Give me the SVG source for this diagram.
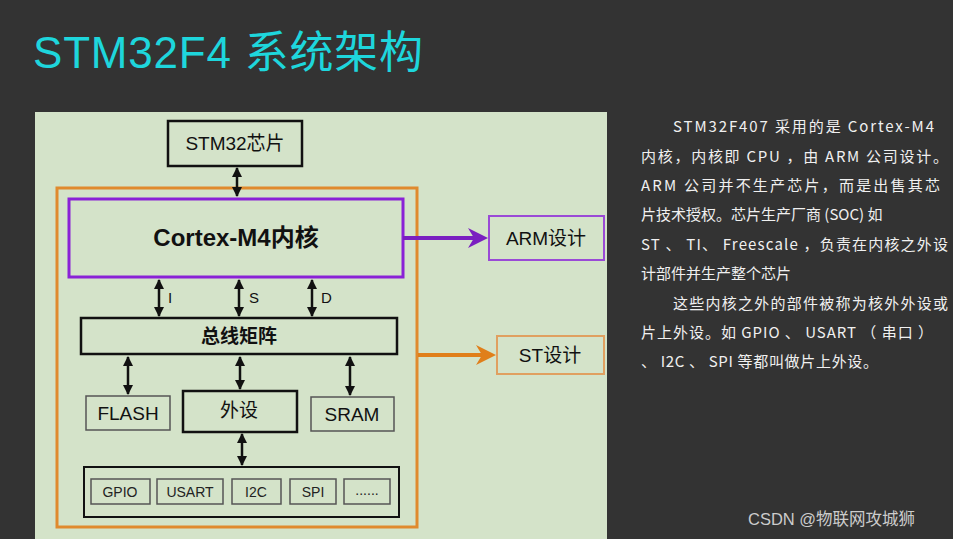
<svg xmlns="http://www.w3.org/2000/svg" width="953" height="539" viewBox="0 0 953 539">
<defs>
<marker id="ab" viewBox="0 0 10 10" refX="9" refY="5" markerWidth="4" markerHeight="4" orient="auto-start-reverse"><path d="M0,0L10,5L0,10z" fill="#111"/></marker>
<marker id="ap" viewBox="0 0 10 10" refX="8" refY="5" markerWidth="5" markerHeight="5" orient="auto"><path d="M0,0L10,5L0,10L3,5z" fill="#7a1fc0"/></marker>
<marker id="ao" viewBox="0 0 10 10" refX="8" refY="5" markerWidth="5" markerHeight="5" orient="auto"><path d="M0,0L10,5L0,10L3,5z" fill="#e07f1a"/></marker>
</defs>
<style>
text{font-family:"Liberation Sans","Noto Sans CJK SC",sans-serif}
.b{fill:#d4e3c9;stroke:#111;stroke-width:2.5}
.s{fill:#d4e3c9;stroke:#555;stroke-width:1.5}
.t{font-size:19px;fill:#111;text-anchor:middle}
.st{font-size:14px;fill:#222;text-anchor:middle}
.p{font-size:15px;fill:#f0f0f0;font-family:"Noto Sans CJK SC",sans-serif}
.c{stroke:#111;stroke-width:2.5;marker-start:url(#ab);marker-end:url(#ab)}
</style>
<rect width="953" height="539" fill="#333333"/>
<text x="33" y="68" font-size="44" fill="#1ed6dc" textLength="390" font-family="'Liberation Sans','Noto Sans CJK SC',sans-serif">STM32F4 系统架构</text>
<rect x="35" y="112" width="572" height="427" fill="#d4e3c9"/>
<g id="orange"><rect x="57" y="188" width="360" height="339" fill="none" stroke="#e08a2e" stroke-width="3"/></g>
<g id="stm32"><rect class="b" x="168" y="121" width="134" height="45" stroke-width="4"/><text class="t" x="235" y="150">STM32芯片</text></g>
<g id="core"><rect x="69" y="199" width="334" height="78" fill="#d4e3c9" stroke="#8a22d6" stroke-width="3"/><text x="236" y="246" font-size="24" font-weight="bold" text-anchor="middle" fill="#111">Cortex-M4内核</text></g>
<g id="arm"><rect x="489" y="216" width="115" height="44" fill="#d4e3c9" stroke="#9a4ad6" stroke-width="2"/><text class="t" x="546" y="245">ARM设计</text></g>
<g id="st"><rect x="497" y="336" width="107" height="38" fill="#d4e3c9" stroke="#e0a060" stroke-width="2"/><text class="t" x="550" y="362">ST设计</text></g>
<g id="bus"><rect class="b" x="81" y="318" width="316" height="36"/><text class="t" x="239" y="343" font-weight="bold" font-size="18">总线矩阵</text></g>
<g id="flash"><rect class="s" x="86" y="396" width="84" height="34"/><text class="t" x="128" y="420">FLASH</text></g>
<g id="periph"><rect class="b" x="183" y="391" width="114" height="41"/><text class="t" x="239" y="417">外设</text></g>
<g id="sram"><rect class="s" x="311" y="397" width="83" height="34"/><text class="t" x="352" y="421">SRAM</text></g>
<g id="plist"><rect x="84" y="467" width="315" height="50" fill="none" stroke="#111" stroke-width="2"/>
<rect class="s" x="91" y="479" width="59" height="25"/><text class="st" x="120" y="497">GPIO</text>
<rect class="s" x="157" y="479" width="66" height="25"/><text class="st" x="190" y="497">USART</text>
<rect class="s" x="232" y="479" width="49" height="25"/><text class="st" x="256" y="497">I2C</text>
<rect class="s" x="290" y="479" width="46" height="25"/><text class="st" x="313" y="497">SPI</text>
<rect class="s" x="344" y="479" width="46" height="25"/><text class="st" x="367" y="495">......</text></g>
<g id="connectors">
<line class="c" x1="237" y1="168" x2="237" y2="196"/>
<line class="c" x1="159" y1="280" x2="159" y2="316"/>
<line class="c" x1="239" y1="280" x2="239" y2="316"/>
<line class="c" x1="312" y1="280" x2="312" y2="316"/>
<line class="c" x1="128" y1="357" x2="128" y2="394"/>
<line class="c" x1="240" y1="357" x2="240" y2="389"/>
<line class="c" x1="350" y1="357" x2="350" y2="395"/>
<line class="c" x1="242" y1="434" x2="242" y2="465"/>
<line x1="403" y1="238" x2="484" y2="238" stroke="#7a1fc0" stroke-width="4" marker-end="url(#ap)"/>
<line x1="418" y1="355" x2="492" y2="355" stroke="#e07f1a" stroke-width="4" marker-end="url(#ao)"/>
<text x="168" y="303" font-size="15" fill="#111">I</text>
<text x="249" y="303" font-size="15" fill="#111">S</text>
<text x="321" y="303" font-size="15" fill="#111">D</text>
</g>
<text class="p" x="673" y="132" textLength="261">STM32F407  采用的是  Cortex-M4</text>
<text class="p" x="641" y="162" textLength="307">内核，内核即  CPU ，由  ARM 公司设计。</text>
<text class="p" x="641" y="191" textLength="299">ARM  公司并不生产芯片，而是出售其芯</text>
<text class="p" x="641" y="220">片技术授权。芯片生产厂商 (SOC) 如</text>
<text class="p" x="641" y="250" textLength="307">ST 、 TI、 Freescale ，负责在内核之外设</text>
<text class="p" x="641" y="279">计部件并生产整个芯片</text>
<text class="p" x="673" y="309" textLength="275">这些内核之外的部件被称为核外外设或</text>
<text class="p" x="641" y="338" textLength="292">片上外设。如  GPIO 、 USART （ 串口 ）</text>
<text class="p" x="641" y="367" textLength="237">、 I2C 、 SPI 等都叫做片上外设。</text>
<text x="748" y="525" font-size="16.5" fill="#cccccc" font-family="'Noto Sans CJK SC',sans-serif">CSDN @物联网攻城狮</text>
</svg>
